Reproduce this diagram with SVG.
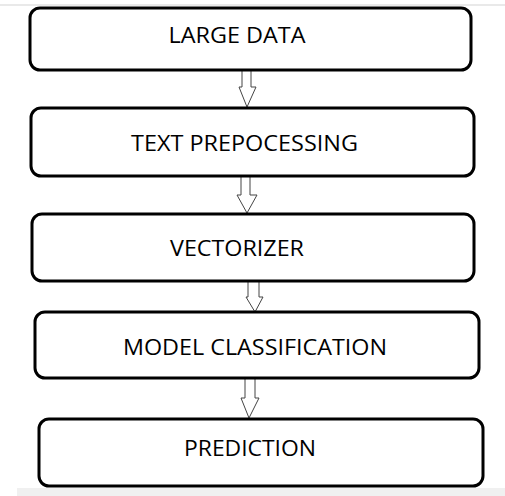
<svg xmlns="http://www.w3.org/2000/svg" width="505" height="496" viewBox="0 0 505 496">
<style>
.box{fill:#fff;stroke:#000;stroke-width:3}
.lbl{font-family:"Open Sans","Noto Sans",sans-serif;font-size:22px;fill:#000;text-anchor:middle}
.arr{fill:#fff;stroke:#444;stroke-width:1}
</style>
<rect x="0" y="0" width="505" height="496" fill="#fff"/>
<line x1="0" y1="5" x2="505" y2="5" stroke="#e2e2e2" stroke-width="1.5"/>
<rect x="17" y="488" width="488" height="8" fill="#f0f0f0"/>
<g id="connectors">
<path class="arr" d="M242,70 V87 H239 L247,107 L256,87 H251 V70"/>
<line x1="225" y1="69.5" x2="249" y2="69.5" stroke="#000" stroke-width="3"/>
<path class="arr" d="M241,176 V195 H237 L247,213 L257,195 H250 V176"/>
<path class="arr" d="M248,281 V297 H246 L255,312 L263,297 H259 V281"/>
<path class="arr" d="M245,378 V398 H241 L249,418 L259,398 H255 V378"/>
</g>
<g id="large-data">
<rect class="box" x="30" y="8" width="441" height="62" rx="10"/>
<text class="lbl" x="237" y="43" textLength="137" lengthAdjust="spacingAndGlyphs">LARGE DATA</text>
</g>
<g id="text-preprocessing">
<rect class="box" x="31" y="108" width="443" height="68" rx="10"/>
<text class="lbl" x="244.5" y="151" textLength="227" lengthAdjust="spacingAndGlyphs">TEXT PREPOCESSING</text>
</g>
<g id="vectorizer">
<rect class="box" x="32" y="214" width="442" height="67" rx="10"/>
<text class="lbl" x="237" y="256" textLength="134" lengthAdjust="spacingAndGlyphs">VECTORIZER</text>
</g>
<g id="model-classification">
<rect class="box" x="35" y="312" width="444" height="66" rx="10"/>
<text class="lbl" x="255" y="355" textLength="264" lengthAdjust="spacingAndGlyphs">MODEL CLASSIFICATION</text>
</g>
<g id="prediction">
<rect class="box" x="39" y="419" width="444" height="67" rx="10"/>
<text class="lbl" x="250" y="456" textLength="132" lengthAdjust="spacingAndGlyphs">PREDICTION</text>
</g>
</svg>
